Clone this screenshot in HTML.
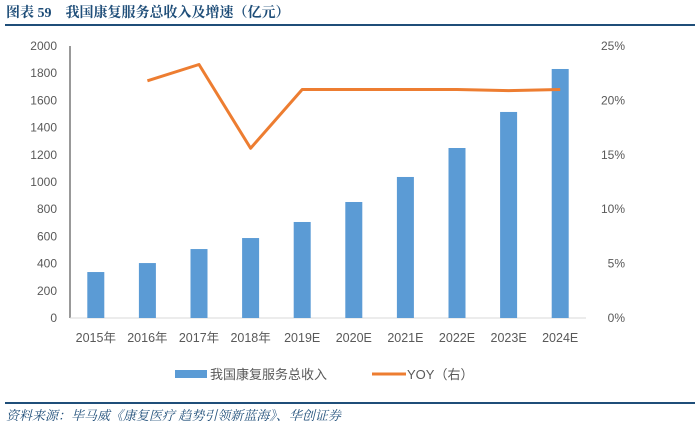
<!DOCTYPE html>
<html><head><meta charset="utf-8"><style>
body{margin:0;background:#fff;width:700px;height:437px;overflow:hidden;font-family:"Liberation Sans","Noto Sans CJK SC",sans-serif}
</style></head><body>
<svg width="700" height="437" xmlns="http://www.w3.org/2000/svg">
<text x="6" y="17" font-size="14" font-weight="bold" fill="#1f4e79" font-family="Liberation Serif,Noto Serif CJK SC,serif">图表 59　我国康复服务总收入及增速（亿元）</text>
<rect x="5" y="24" width="690" height="2" fill="#1f4e79"/>
<g id="plot"></g>
<rect x="5" y="402" width="690" height="2" fill="#1f4e79"/>
<text x="6" y="420" font-size="13" font-style="italic" fill="#1f4e79" font-family="Noto Serif CJK SC,serif">资料来源：毕马威《康复医疗 趋势引领新蓝海》、华创证券</text>
</svg>
<script>
const categories=["2015年","2016年","2017年","2018年","2019E","2020E","2021E","2022E","2023E","2024E"];
const revenue=[338,404,507,588,706,853,1037,1250,1515,1831];
const yoy=[null,21.8,23.3,15.6,21.0,21.0,21.0,21.0,20.9,21.0];
const leftTicks=[0,200,400,600,800,1000,1200,1400,1600,1800,2000];
const rightTicks=[0,5,10,15,20,25];
const g=document.getElementById('plot');const NS="http://www.w3.org/2000/svg";
const x0=70,x1=586,yb=318,yt=46;
const yL=v=>yb-(v/2000)*(yb-yt);
const yR=v=>yb-(v/25)*(yb-yt);
const step=(x1-x0)/categories.length;
const xc=i=>x0+step*(i+0.5);
function mk(t,a,txt){const e=document.createElementNS(NS,t);for(const k in a)e.setAttribute(k,a[k]);if(txt!=null)e.textContent=txt;g.appendChild(e);return e;}
leftTicks.forEach(v=>{const e=mk('text',{x:57,y:yL(v)+4,'font-size':12,fill:'#595959','text-anchor':'end'},v);

});
rightTicks.forEach(v=>{const e=mk('text',{x:625,y:yR(v)+4,'font-size':12,fill:'#595959','text-anchor':'end'},v+'%');

});
const ax=mk('line',{x1:x0,y1:yt,x2:x0,y2:yb,stroke:'#333','stroke-width':1});


const bx=mk('line',{x1:x0,y1:yb,x2:x1,y2:yb,stroke:'#d9d9d9','stroke-width':1});


categories.forEach((c,i)=>{
const b=mk('rect',{x:xc(i)-8.5,y:yL(revenue[i]),width:17,height:yb-yL(revenue[i]),fill:'#5b9bd5'});


const t=mk('text',{x:xc(i),y:342,'font-size':12.5,fill:'#595959','text-anchor':'middle'},c);

});
let d='';yoy.forEach((v,i)=>{if(v==null)return;d+=(d?'L':'M')+xc(i)+','+yR(v);});
const ln=mk('path',{d:d,fill:'none',stroke:'#ed7d31','stroke-width':3,'stroke-linejoin':'round'});


const l1=mk('rect',{x:175,y:370,width:32,height:8,fill:'#5b9bd5'});


const l2=mk('text',{x:210,y:379,'font-size':13,fill:'#595959'},'我国康复服务总收入');


const l3=mk('line',{x1:372,y1:374,x2:406,y2:374,stroke:'#ed7d31','stroke-width':3});


const l4=mk('text',{x:407,y:379,'font-size':13,fill:'#595959'},'YOY（右）');


</script>
</body></html>
